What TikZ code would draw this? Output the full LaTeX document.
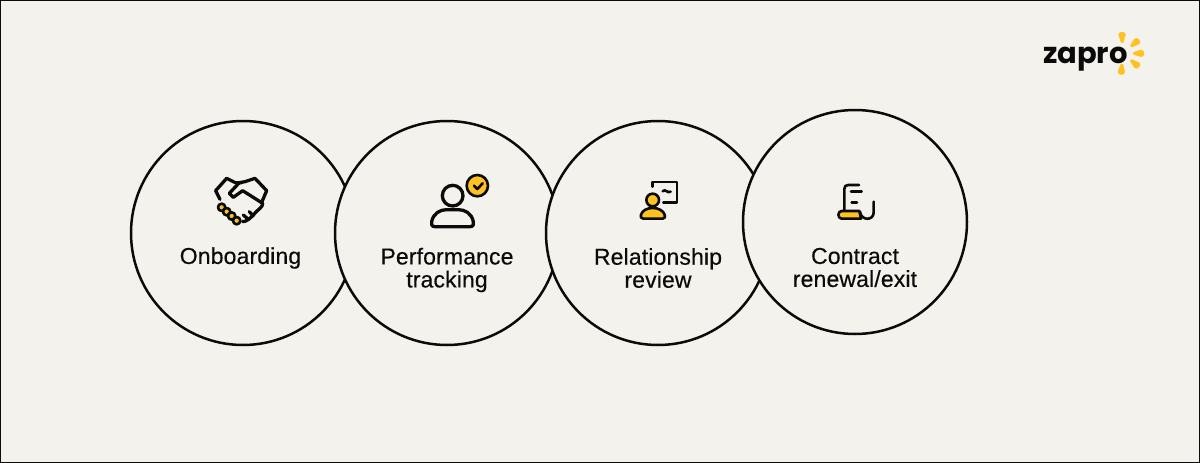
\documentclass[tikz,border=0pt]{standalone}
\usepackage{fontspec}
\setmainfont{Liberation Sans}[FakeBold=0.35,LetterSpace=0.6]
\newfontfamily\logofont{Poppins}
\definecolor{bgc}{HTML}{F3F2EC}
\definecolor{ink}{HTML}{0B0B0B}
\definecolor{sun}{HTML}{FFC222}
\tikzset{
  stage/.style={circle,draw=ink,fill=bgc,line width=2.5pt,minimum size=224pt,inner sep=0pt},
  lab/.style={align=center,text=ink,font=\fontsize{23}{23}\selectfont,inner sep=0pt},
  ic/.style={draw=ink,line width=3.3pt,line join=round,line cap=round},
  ics/.style={draw=ink,line width=2.6pt,line join=round,line cap=round},
  ray/.style={fill=sun,draw=sun,line width=0.6pt,line join=round}
}
\begin{document}
\begin{tikzpicture}[x=1pt,y=-1pt]
\useasboundingbox (0,0) rectangle (1200,463);
\fill[bgc] (0,0) rectangle (1200,463);
\draw[ink,line width=1.2pt] (0.5,0.5) rectangle (1199.5,462.5);
\node[stage] (c1) at (243,233) {};
\node[stage] (c2) at (447,233) {};
\node[stage] (c3) at (658,233) {};
\node[stage] (c4) at (855,222) {};
\node[lab] (t1) at (240.5,258) {Onboarding};
\node[lab] (t2) at (447,270) {Performance\\tracking};
\node[lab] (t3) at (658,268) {Relationship\\review};
\node[lab] (t4) at (855,267.5) {Contract\\renewal/exit};
% handshake
\begin{scope}[shift={(200,160)},x=0.3333pt,y=-0.3333pt]
\draw[ic] (60,118) -- (47,92) -- (80,55) -- (106,68) -- (125,68);
\draw[ic] (186,125) -- (200,92) -- (165,55) -- (135,65) -- (118,68) -- (88,100) -- (100,112) -- (128,92) -- (188,130) .. controls (190,142) and (170,150) .. (160,165) .. controls (150,175) and (140,185) .. (128,185);
\draw[ic] (130,165) -- (145,178);
\draw[ic] (148,155) -- (160,168);
\foreach \px/\py in {65/142,80/155,95/168,110/182}
  \draw[ics,fill=sun] (\px,\py) circle[radius=11];
\end{scope}
% person with badge
\begin{scope}[shift={(420,165)},x=0.3333pt,y=-0.3333pt]
\draw[ic] (98,92) circle[radius=31];
\draw[ic] (45,185) .. controls (35,185) and (33,178) .. (35,170) .. controls (40,145) and (60,134) .. (80,134) -- (115,134) .. controls (135,134) and (155,145) .. (160,170) .. controls (162,178) and (160,185) .. (150,185) -- cycle;
\draw[ics,fill=sun] (172,62) circle[radius=32];
\draw[ics] (162,62) -- (172,72) -- (188,55);
\end{scope}
% person with board
\begin{scope}[shift={(630,170)},x=0.3333pt,y=-0.3333pt]
\draw[ics] (68,50) -- (68,36) -- (141,36) -- (141,97) -- (100,97);
\draw[ics] (98,64) .. controls (106,54) and (112,72) .. (122,65);
\draw[ics,fill=sun] (68,90) circle[radius=19];
\draw[ics,fill=sun] (40,146) .. controls (32,146) and (31,140) .. (33,134) .. controls (37,122) and (50,114) .. (68,114) .. controls (86,114) and (100,122) .. (104,134) .. controls (106,140) and (106,146) .. (98,146) -- cycle;
\end{scope}
% contract
\begin{scope}[shift={(825,175)},x=0.3333pt,y=-0.3333pt]
\draw[ics,fill=sun] (50,108) -- (103,108) -- (108,131) -- (50,131) .. controls (37,131) and (37,108) .. (50,108) -- cycle;
\draw[ics] (58,105) -- (58,42) .. controls (58,34) and (62,30) .. (70,30) -- (102,30);
\draw[ics] (78,50) -- (110,50);
\draw[ics] (80,82) -- (96,82);
\draw[ics] (146,80) -- (146,112) .. controls (146,138) and (108,138) .. (105,110);
\end{scope}
% logo
\node[inner sep=0pt,anchor=base west,text=ink,font={\logofont\bfseries\fontsize{29}{29}\selectfont}] (logo) at (1043,63) {zapro};
\begin{scope}[shift={(1030,20)},x=0.3333pt,y=-0.3333pt]
\foreach \a in {94,40,0,-40,-92}
  \draw[ray,shift={(278,100)},rotate=-\a] (33,-3) -- (56,-10) .. controls (66,-9) and (66,9) .. (56,10) -- (33,3) -- cycle;
\end{scope}
\end{tikzpicture}
\end{document}
